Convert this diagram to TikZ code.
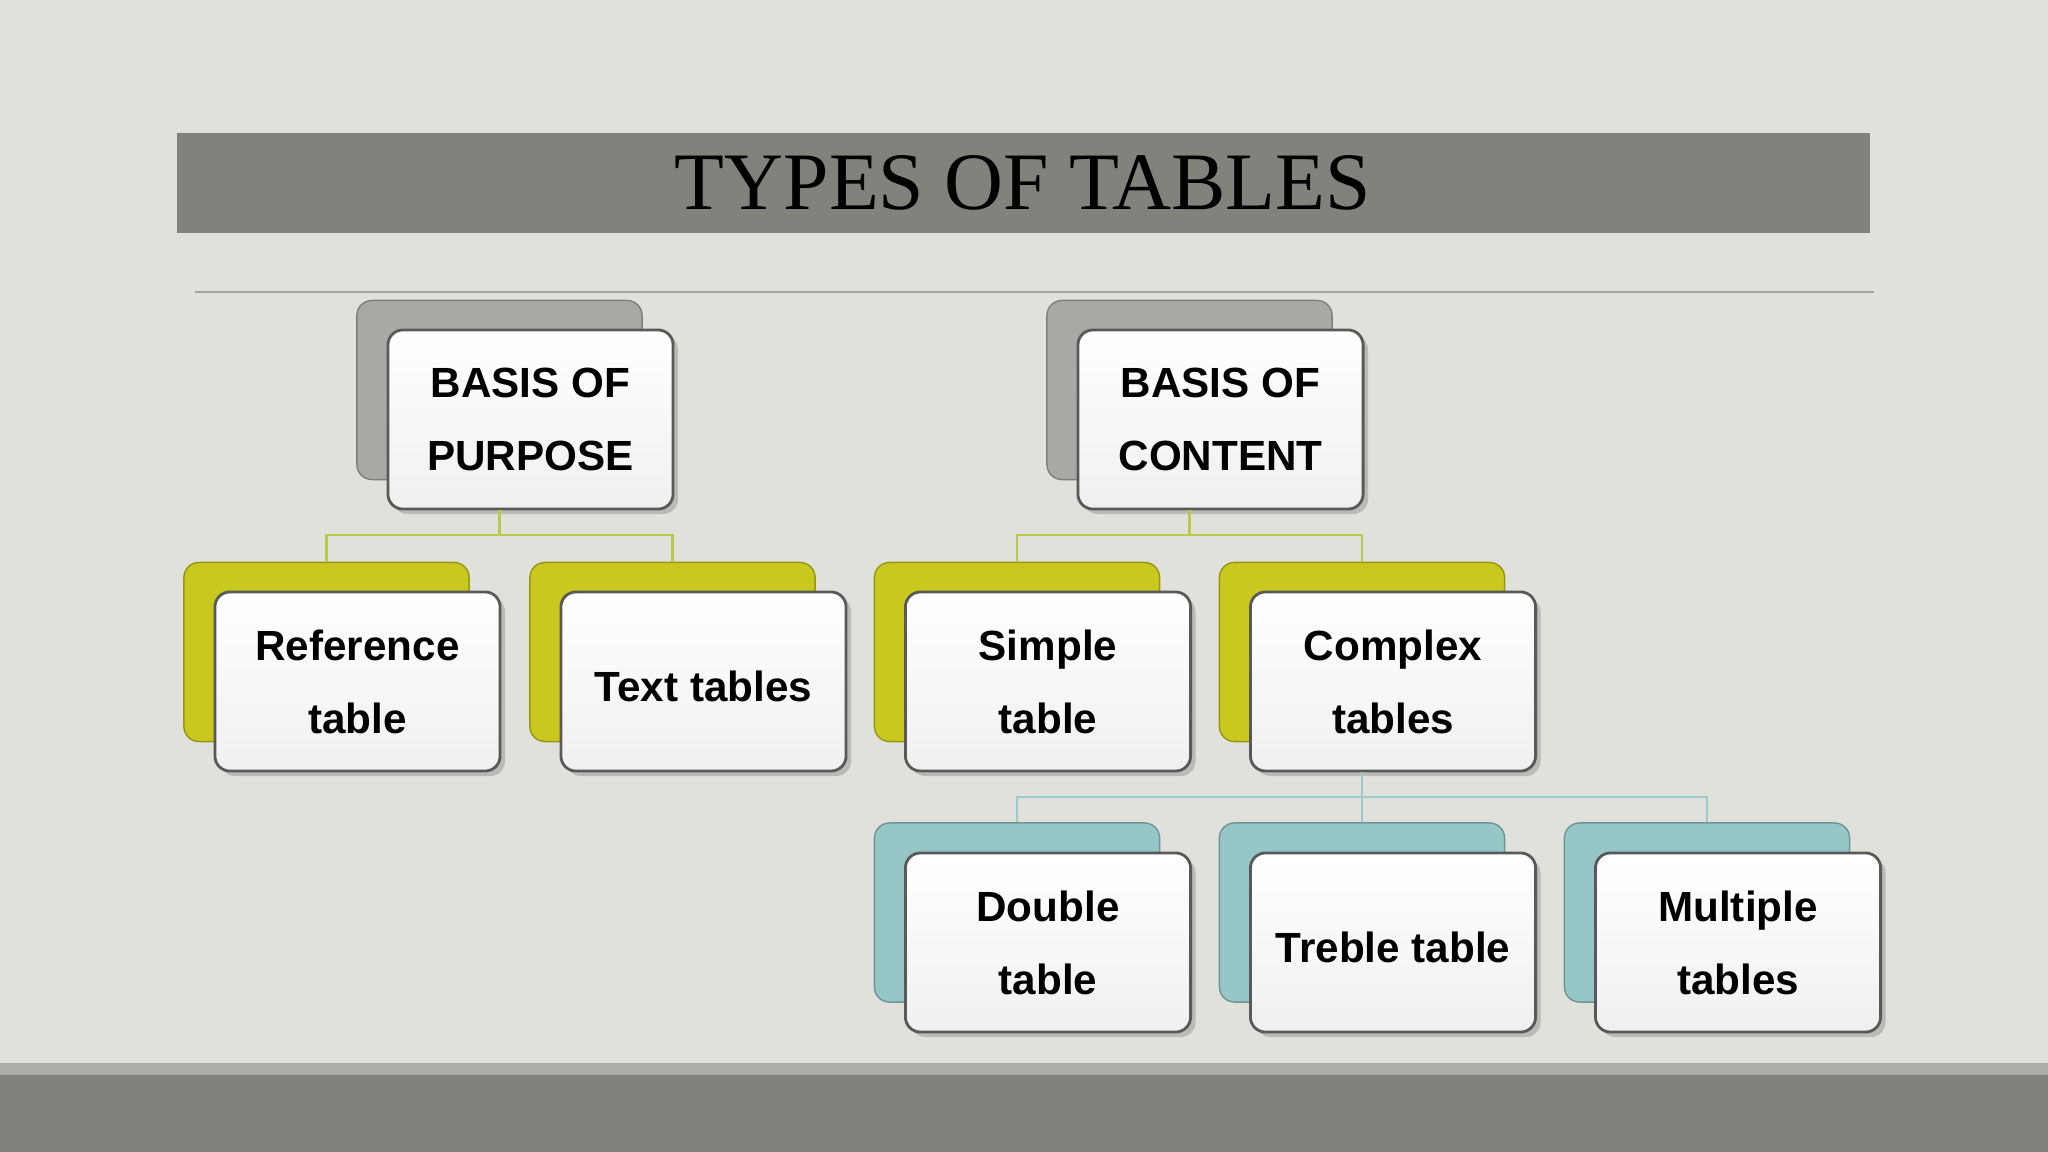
\documentclass[tikz,border=0pt]{standalone}
\usepackage{fontspec}
\setmainfont{Liberation Sans}
\newfontfamily\titlefont{Liberation Serif}
\usetikzlibrary{shadows}
\definecolor{slidebg}{HTML}{E1E1DC}
\definecolor{bardark}{HTML}{82827C}
\definecolor{barlight}{HTML}{ADADA8}
\definecolor{rulegray}{HTML}{A4A4A0}
\definecolor{backgray}{HTML}{A8A8A4}
\definecolor{backylw}{HTML}{C8C81E}
\definecolor{backteal}{HTML}{96C6C6}
\definecolor{linkylw}{HTML}{BCC84A}
\definecolor{linkteal}{HTML}{9CCACA}

\begin{document}
\begin{tikzpicture}[x=0.01cm,y=-0.01cm,
  backbox/.style={draw=#1!75!black,fill=#1,rounded corners=0.15cm,
    minimum width=2.85cm,minimum height=1.79cm,line width=0.4pt},
  frontbox/.style={draw=black!65,top color=white,bottom color=black!6,
    rounded corners=0.15cm,minimum width=2.85cm,minimum height=1.79cm,
    line width=0.8pt,align=center,
    drop shadow={shadow xshift=0.05cm,shadow yshift=-0.05cm,opacity=0.4},
    execute at begin node={\rule{0pt}{11.6pt}},
    font=\bfseries\fontsize{12}{20.8}\selectfont},
  branch/.style={draw=#1,line width=0.7pt}]
\useasboundingbox (0,0) rectangle (2048,1152);
\fill[slidebg] (0,0) rectangle (2048,1152);
\fill[barlight] (0,1063) rectangle (2048,1075);
\fill[bardark] (0,1075) rectangle (2048,1152);
\node[fill=bardark,minimum width=16.92cm,minimum height=1cm,
  font=\titlefont\fontsize{23.2}{28}\selectfont] (title) at (1023,183) {TYPES OF TABLES};
\draw[rulegray,line width=0.5pt] (195,292) -- (1874,292);

\node[backbox=backgray] (purposeB) at (499.5,390) {};
\node[frontbox] (purpose) at (530.5,419.5) {BASIS OF\\PURPOSE};
\node[backbox=backgray] (contentB) at (1189.5,390) {};
\node[frontbox] (content) at (1220.5,419.5) {BASIS OF\\CONTENT};

\node[backbox=backylw] (referenceB) at (326.5,652) {};
\node[frontbox] (reference) at (357.5,681.5) {Reference\\table};
\node[backbox=backylw] (textB) at (672.5,652) {};
\node[frontbox] (text) at (703.5,681.5) {Text tables};
\node[backbox=backylw] (simpleB) at (1017,652) {};
\node[frontbox] (simple) at (1048,681.5) {Simple\\table};
\node[backbox=backylw] (complexB) at (1362,652) {};
\node[frontbox] (complex) at (1393,681.5) {Complex\\tables};

\node[backbox=backteal] (doubleB) at (1017,912.5) {};
\node[frontbox] (double) at (1048,942.5) {Double\\table};
\node[backbox=backteal] (trebleB) at (1362,912.5) {};
\node[frontbox] (treble) at (1393,942.5) {Treble table};
\node[backbox=backteal] (multipleB) at (1707,912.5) {};
\node[frontbox] (multiple) at (1738,942.5) {Multiple\\tables};

\coordinate (purposeBus) at (499.5,535);
\coordinate (contentBus) at (1189.5,535);
\coordinate (complexBus) at (1362,797);
\draw[branch=linkylw] (purpose.south -| purposeB) -- (purposeBus) -| (referenceB.north);
\draw[branch=linkylw] (purposeBus) -| (textB.north);
\draw[branch=linkylw] (content.south -| contentB) -- (contentBus) -| (simpleB.north);
\draw[branch=linkylw] (contentBus) -| (complexB.north);
\draw[branch=linkteal] (complex.south -| complexB) -- (complexBus) -| (doubleB.north);
\draw[branch=linkteal] (complexBus) -- (trebleB.north);
\draw[branch=linkteal] (complexBus) -| (multipleB.north);
\end{tikzpicture}
\end{document}
